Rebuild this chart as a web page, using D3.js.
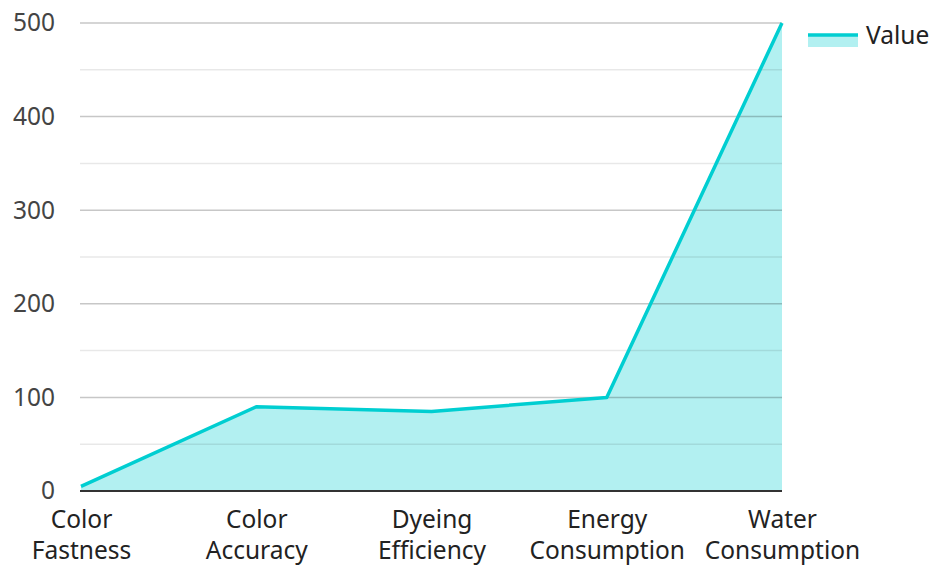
<!DOCTYPE html>
<html>
<head>
<meta charset="utf-8">
<script src="https://cdn.jsdelivr.net/npm/d3@7"></script>
<style>
  html, body { margin: 0; padding: 0; background: #fff; }
  svg { display: block; font-family: "Noto Sans", "Open Sans", sans-serif; }
</style>
</head>
<body>
<svg id="chart" width="931" height="566"></svg>
<script>
const categories = [["Color", "Fastness"], ["Color", "Accuracy"], ["Dyeing", "Efficiency"], ["Energy", "Consumption"], ["Water", "Consumption"]];
const values = [5, 90, 85, 100, 500];
const yTicks = [0, 100, 200, 300, 400, 500];
const yMinorTicks = [50, 150, 250, 350, 450];
const seriesName = "Value";

const lineColor = "#00CED1";
const fillColor = "rgba(0, 206, 209, 0.3)";
const fontSize = 24.5;

const svg = d3.select("#chart");
const margin = { left: 81, right: 149, top: 23, bottom: 75 };
const width = 931, height = 566;

const keys = categories.map(c => c.join(" "));
const x = d3.scalePoint().domain(keys).range([margin.left, width - margin.right]).padding(0);
const y = d3.scaleLinear().domain([0, 500]).range([height - margin.bottom, margin.top]);

const data = keys.map((k, i) => ({ k, v: values[i] }));

// area
svg.append("path")
  .datum(data)
  .attr("fill", fillColor)
  .attr("d", d3.area().x(d => x(d.k)).y0(y(0)).y1(d => y(d.v)));

// grid lines
const gx0 = margin.left - 1, gx1 = width - margin.right;
svg.append("g").selectAll("line").data(yMinorTicks).join("line")
  .attr("x1", gx0).attr("x2", gx1)
  .attr("y1", d => y(d)).attr("y2", d => y(d))
  .attr("stroke", "rgba(0,0,0,0.09)").attr("stroke-width", 1.5);
svg.append("g").selectAll("line").data(yTicks.filter(t => t > 0)).join("line")
  .attr("x1", gx0).attr("x2", gx1)
  .attr("y1", d => y(d)).attr("y2", d => y(d))
  .attr("stroke", "rgba(0,0,0,0.22)").attr("stroke-width", 1.5);

// line
svg.append("path")
  .datum(data)
  .attr("fill", "none")
  .attr("stroke", lineColor)
  .attr("stroke-width", 3.5)
  .attr("stroke-linejoin", "round")
  .attr("d", d3.line().x(d => x(d.k)).y(d => y(d.v)));

// x axis baseline
svg.append("line")
  .attr("x1", gx0).attr("x2", gx1)
  .attr("y1", y(0)).attr("y2", y(0))
  .attr("stroke", "#333").attr("stroke-width", 2);

// y axis labels
const yAxis = d3.axisLeft(y).tickValues(yTicks).tickSize(0).tickPadding(0).tickFormat(d3.format("d"));
const yg = svg.append("g").attr("transform", `translate(${margin.left - 26},0)`).call(yAxis);
yg.select(".domain").remove();
yg.selectAll("text").attr("font-size", fontSize).attr("fill", "#444").attr("font-family", "'Noto Sans', sans-serif");

// x axis labels
const xAxis = d3.axisBottom(x).tickSize(0).tickFormat(() => "");
const xg = svg.append("g").attr("transform", `translate(0,${y(0)})`).call(xAxis);
xg.select(".domain").remove();
xg.selectAll(".tick").each(function(d, i) {
  const t = d3.select(this).append("text")
    .attr("text-anchor", "middle")
    .attr("font-size", fontSize)
    .attr("fill", "#222")
    .attr("font-family", "'Noto Sans', sans-serif");
  categories[i].forEach((line, j) => {
    t.append("tspan").attr("x", 0).attr("y", 37 + j * 31).text(line);
  });
});

// legend
const lg = svg.append("g").attr("transform", "translate(808,35)");
lg.append("rect").attr("x", 0).attr("y", 0).attr("width", 50).attr("height", 12).attr("fill", fillColor);
lg.append("line").attr("x1", 0).attr("x2", 50).attr("y1", 0).attr("y2", 0)
  .attr("stroke", lineColor).attr("stroke-width", 3.5);
lg.append("text").attr("x", 58).attr("y", 0).attr("dy", "0.35em")
  .attr("font-size", fontSize).attr("fill", "#222")
  .attr("font-family", "'Noto Sans', sans-serif").text(seriesName);
</script>
</body>
</html>
